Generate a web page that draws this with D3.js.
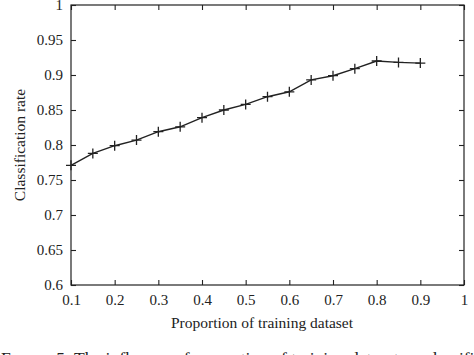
<!DOCTYPE html>
<html><head><meta charset="utf-8">
<script src="https://cdn.jsdelivr.net/npm/d3@7"></script>
<style>body{margin:0;background:#fff}svg{display:block}</style>
</head><body>
<svg id="c" width="474" height="355"></svg>
<script>
const proportions = [0.1,0.15,0.2,0.25,0.3,0.35,0.4,0.45,0.5,0.55,0.6,0.65,0.7,0.75,0.8,0.85,0.9];
const rates = [0.771,0.788,0.799,0.807,0.819,0.826,0.839,0.850,0.858,0.869,0.876,0.893,0.899,0.909,0.920,0.918,0.917];
const xTicks = [0.1,0.2,0.3,0.4,0.5,0.6,0.7,0.8,0.9,1];
const yTicks = [0.6,0.65,0.7,0.75,0.8,0.85,0.9,0.95,1];

const svg = d3.select("#c");
const L=71, R=464, T=5, B=285;
const x = d3.scaleLinear().domain([0.1,1]).range([L,R]);
const y = d3.scaleLinear().domain([0.6,1]).range([B,T]);
const font = "'Liberation Serif', 'DejaVu Serif', serif";
const ink = "#222";
const fmt = d => d3.format("")(+d.toFixed(2));

svg.append("rect").attr("x",L).attr("y",T).attr("width",R-L).attr("height",B-T)
  .attr("fill","none").attr("stroke",ink).attr("stroke-width",1.2);

const tl = 5;
function styleAxis(g){ g.select(".domain").remove(); g.selectAll("line").attr("stroke",ink).attr("stroke-width",1.1);
  g.selectAll("text").attr("fill",ink).style("font-family",font).style("font-size","15px"); }

svg.append("g").attr("transform",`translate(0,${B})`)
  .call(d3.axisBottom(x).tickValues(xTicks).tickFormat(fmt).tickSizeInner(-tl).tickSizeOuter(0).tickPadding(9))
  .call(styleAxis);
svg.append("g").attr("transform",`translate(0,${T})`)
  .call(d3.axisTop(x).tickValues(xTicks).tickFormat("").tickSizeInner(-tl).tickSizeOuter(0))
  .call(styleAxis);
svg.append("g").attr("transform",`translate(${L},0)`)
  .call(d3.axisLeft(y).tickValues(yTicks).tickFormat(fmt).tickSizeInner(-tl).tickSizeOuter(0).tickPadding(8))
  .call(styleAxis);
svg.append("g").attr("transform",`translate(${R},0)`)
  .call(d3.axisRight(y).tickValues(yTicks).tickFormat("").tickSizeInner(-tl).tickSizeOuter(0))
  .call(styleAxis);

const data = proportions.map((p,i)=>({p, r:rates[i]}));
svg.append("path").datum(data)
  .attr("d", d3.line().x(d=>x(d.p)).y(d=>y(d.r)))
  .attr("fill","none").attr("stroke",ink).attr("stroke-width",1.4);

svg.append("g").selectAll("path.m").data(data).join("path")
  .attr("d", d=>{const s=5; return `M${x(d.p)-s},${y(d.r)}H${x(d.p)+s}M${x(d.p)},${y(d.r)-s}V${y(d.r)+s}`;})
  .attr("stroke",ink).attr("stroke-width",1.3).attr("fill","none");

svg.append("text").attr("x",262).attr("y",328).attr("text-anchor","middle")
  .style("font-family",font).style("font-size","15.5px").attr("fill",ink)
  .text("Proportion of training dataset");

svg.append("text").attr("transform","translate(25,145) rotate(-90)").attr("text-anchor","middle")
  .style("font-family",font).style("font-size","15.5px").attr("fill",ink)
  .text("Classification rate");

const cap = svg.append("text").attr("x",1).attr("y",363.5)
  .style("font-family",font).style("font-size","17.5px").attr("fill",ink);
cap.append("tspan").text("F");
cap.append("tspan").style("font-size","13.5px").text("IGURE");
cap.append("tspan").text(" 5: The influence of proportion of training dataset on classification rate");
</script>
</body></html>
